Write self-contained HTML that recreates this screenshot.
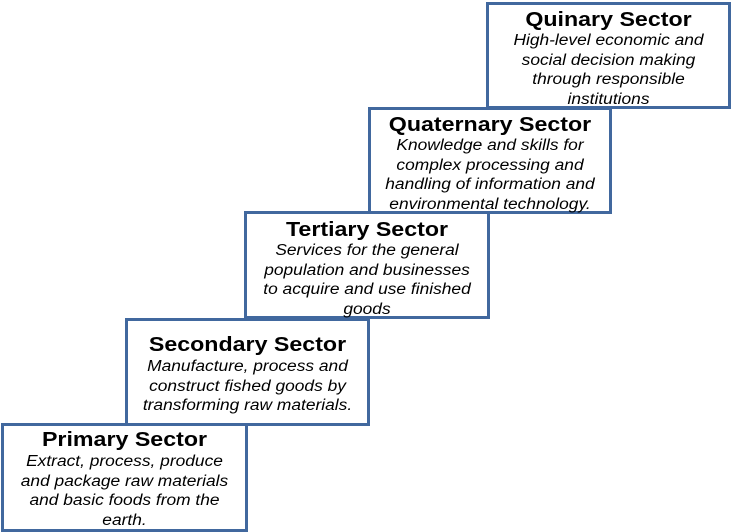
<!DOCTYPE html>
<html><head><meta charset="utf-8"><style>
html,body{margin:0;padding:0;background:#fff;width:732px;height:532px;overflow:hidden;position:relative;font-family:"Liberation Sans",sans-serif;color:#000}
.b{position:absolute;box-sizing:border-box;border:3px solid #41689e;background:#fff}
.t{position:absolute;left:0;right:0;text-align:center;white-space:nowrap;transform-origin:50% 0}
.h{font-weight:bold;font-size:20px;line-height:22px;transform:scaleX(1.16)}
.i{font-style:italic;font-size:15.5px;line-height:19.6px;transform:scaleX(1.12)}
</style></head><body>
<div class="b" style="left:486px;top:2px;width:245px;height:107px">
 <div class="t h" style="top:4px">Quinary Sector</div>
 <div class="t i" style="top:26px">High-level economic and<br>social decision making<br>through responsible<br>institutions</div>
</div>
<div class="b" style="left:368px;top:107px;width:244px;height:107px">
 <div class="t h" style="top:4px">Quaternary Sector</div>
 <div class="t i" style="top:26px">Knowledge and skills for<br>complex processing and<br>handling of information and<br>environmental technology.</div>
</div>
<div class="b" style="left:244px;top:211px;width:246px;height:108px">
 <div class="t h" style="top:5px">Tertiary Sector</div>
 <div class="t i" style="top:27px">Services for the general<br>population and businesses<br>to acquire and use finished<br>goods</div>
</div>
<div class="b" style="left:125px;top:318px;width:245px;height:108px">
 <div class="t h" style="top:13px">Secondary Sector</div>
 <div class="t i" style="top:36px">Manufacture, process and<br>construct fished goods by<br>transforming raw materials.</div>
</div>
<div class="b" style="left:1px;top:423px;width:247px;height:109px">
 <div class="t h" style="top:3px">Primary Sector</div>
 <div class="t i" style="top:26px">Extract, process, produce<br>and package raw materials<br>and basic foods from the<br>earth.</div>
</div>
</body></html>
